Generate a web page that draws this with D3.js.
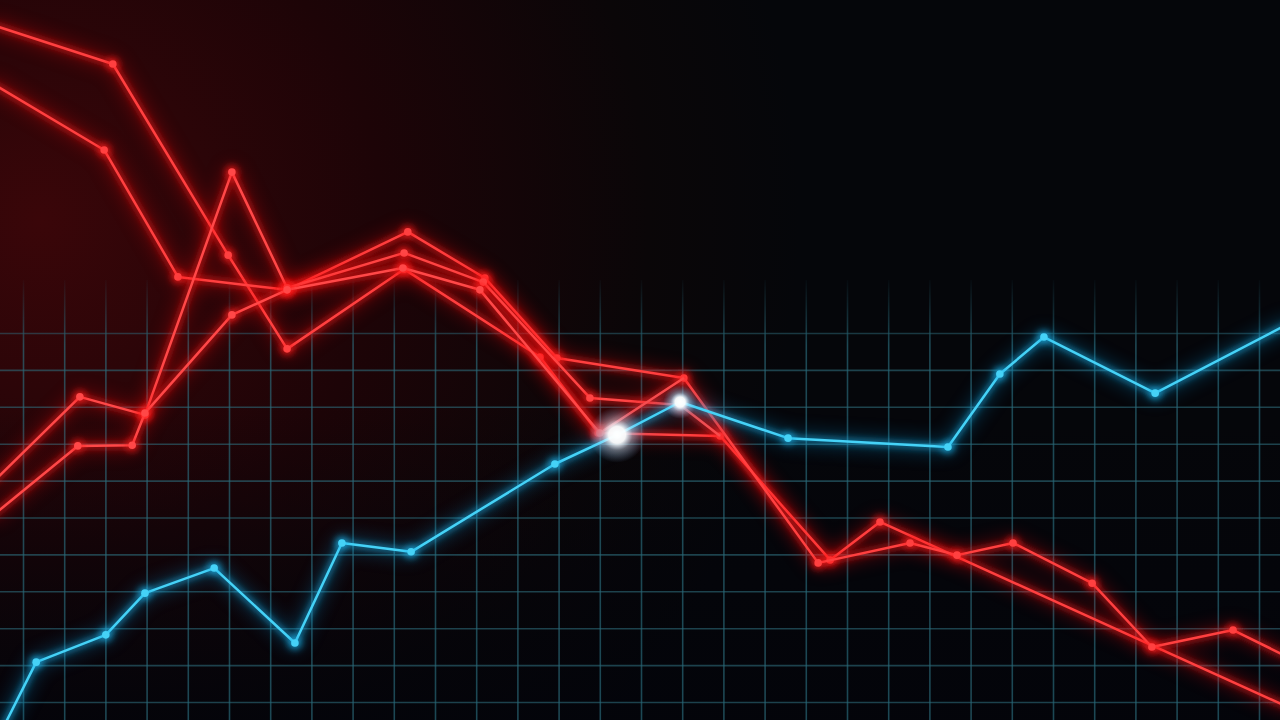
<!DOCTYPE html>
<html><head><meta charset="utf-8">
<script src="https://cdn.jsdelivr.net/npm/d3@7/dist/d3.min.js"></script>
<style>html,body{margin:0;padding:0;background:#060608;overflow:hidden}svg{display:block}</style>
</head><body>
<svg id="chart" width="1280" height="720"></svg>
<script>
// grid tick values (x: time steps, y: value levels)
const xTicks = d3.range(0, 31);
const yTicks = d3.range(0, 11);

// series: [time, value]
const blueSeries = [[-0.8,-1.4],[0.32,1.08],[2.01,1.82],[2.96,2.95],[4.64,3.63],[6.60,1.60],[7.74,4.31],[9.42,4.07],[12.91,6.45],[14.42,7.24],[15.95,8.13],[18.57,7.15],[22.45,6.91],[23.71,8.89],[24.78,9.89],[27.48,8.37],[30.8,10.3]];
const redSeries1 = [[-0.8,18.37],[2.18,17.29],[4.98,12.11],[6.41,9.57],[9.25,11.73],[12.55,9.35],[13.96,7.29],[16.92,7.21],[19.59,3.85],[20.80,4.88],[30.75,-0.16]];
const redSeries2 = [[-0.8,16.8],[1.97,14.96],[3.76,11.52],[6.41,11.17],[9.34,12.74],[11.21,11.49],[12.96,9.32],[16.04,8.78],[19.30,3.77],[21.53,4.31],[22.67,3.98],[24.03,4.31],[25.95,3.22],[27.40,1.49],[29.37,1.95],[30.75,1.19]];
const redSeries3 = [[-0.8,5.88],[1.38,8.27],[2.96,7.78],[5.07,14.36],[6.41,11.22],[9.25,12.17],[11.17,11.38],[13.76,8.24],[15.95,8.05],[16.92,7.21]];
const redSeries4 = [[-0.8,4.99],[1.33,6.94],[2.65,6.96],[2.96,7.83],[5.07,10.49],[6.41,11.17],[9.22,11.76],[11.09,11.17],[14.0,7.29],[16.04,8.78]];
const flares = [[14.42,7.24,1],[15.95,8.13,0.6]];

const W = 1280, H = 720;
const svg = d3.select('#chart');
const x = d3.scaleLinear().domain([0, 30]).range([23, 1259]);
const y = d3.scaleLinear().domain([0, 10]).range([702, 333]);

const defs = svg.append('defs');
const bg = defs.append('radialGradient').attr('id','bg').attr('gradientUnits','userSpaceOnUse')
  .attr('cx',40).attr('cy',220).attr('r',760);
bg.append('stop').attr('offset',0).attr('stop-color','#3a0609');
bg.append('stop').attr('offset',0.45).attr('stop-color','#1d0407');
bg.append('stop').attr('offset',0.8).attr('stop-color','#0a0608');
bg.append('stop').attr('offset',1).attr('stop-color','#05060a');

const fade = defs.append('linearGradient').attr('id','fade').attr('gradientUnits','userSpaceOnUse')
  .attr('x1',0).attr('y1',275).attr('x2',0).attr('y2',345);
fade.append('stop').attr('offset',0).attr('stop-color','#fff').attr('stop-opacity',0);
fade.append('stop').attr('offset',1).attr('stop-color','#fff').attr('stop-opacity',1);
defs.append('mask').attr('id','gridMask').attr('maskUnits','userSpaceOnUse')
  .attr('x',0).attr('y',0).attr('width',W).attr('height',H)
  .append('rect').attr('width',W).attr('height',H).attr('fill','url(#fade)');

function glow(id, sd){
  const f = defs.append('filter').attr('id',id).attr('filterUnits','userSpaceOnUse')
    .attr('x',-100).attr('y',-100).attr('width',W+200).attr('height',H+200);
  f.append('feGaussianBlur').attr('stdDeviation',sd);
}
glow('blurBig', 9);
glow('blurMid', 3.5);
glow('blurGrid', 0.6);

const flare = defs.append('radialGradient').attr('id','flare');
flare.append('stop').attr('offset',0).attr('stop-color','#ffffff').attr('stop-opacity',1);
flare.append('stop').attr('offset',0.3).attr('stop-color','#ffffff').attr('stop-opacity',0.95);
flare.append('stop').attr('offset',0.55).attr('stop-color','#d8ecff').attr('stop-opacity',0.4);
flare.append('stop').attr('offset',1).attr('stop-color','#8fc8ff').attr('stop-opacity',0);

svg.append('rect').attr('width',W).attr('height',H).attr('fill','url(#bg)');
const bot = defs.append('linearGradient').attr('id','bot').attr('x1',0).attr('y1',0).attr('x2',0).attr('y2',1);
bot.append('stop').attr('offset',0).attr('stop-color','#03040a').attr('stop-opacity',0);
bot.append('stop').attr('offset',1).attr('stop-color','#03040a').attr('stop-opacity',0.9);
svg.append('rect').attr('y',400).attr('width',W).attr('height',320).attr('fill','url(#bot)');

// grid
const grid = svg.append('g').attr('mask','url(#gridMask)').attr('filter','url(#blurGrid)');
grid.append('g').attr('transform',`translate(0,${H})`)
  .call(d3.axisBottom(x).tickValues(xTicks).tickSize(H-280).tickFormat(''))
  .call(g => g.select('.domain').remove())
  .call(g => g.selectAll('line').attr('stroke','#2f7486').attr('stroke-opacity',0.6).attr('stroke-width',1.6).attr('y2', -(H-280)));
grid.append('g')
  .call(d3.axisRight(y).tickValues(yTicks).tickSize(W).tickFormat(''))
  .call(g => g.select('.domain').remove())
  .call(g => g.selectAll('line').attr('stroke','#2b6a7a').attr('stroke-opacity',0.6).attr('stroke-width',1.6));

const line = d3.line().x(d => x(d[0])).y(d => y(d[1]));

function drawSeries(data, core, mid, halo){
  const g = svg.append('g');
  g.append('path').datum(data).attr('d',line).attr('fill','none').attr('stroke',halo)
    .attr('stroke-width',11).attr('stroke-opacity',0.35).attr('filter','url(#blurBig)').attr('stroke-linejoin','round');
  g.append('path').datum(data).attr('d',line).attr('fill','none').attr('stroke',mid)
    .attr('stroke-width',4.5).attr('stroke-opacity',0.75).attr('filter','url(#blurMid)').attr('stroke-linejoin','round');
  g.append('path').datum(data).attr('d',line).attr('fill','none').attr('stroke',core)
    .attr('stroke-width',2.5).attr('stroke-linejoin','round');
  const pts = data.slice(1, -1);
  g.selectAll('circle.h').data(pts).join('circle').attr('class','h')
    .attr('cx',d=>x(d[0])).attr('cy',d=>y(d[1])).attr('r',7).attr('fill',mid).attr('opacity',0.6).attr('filter','url(#blurMid)');
  g.selectAll('circle.c').data(pts).join('circle').attr('class','c')
    .attr('cx',d=>x(d[0])).attr('cy',d=>y(d[1])).attr('r',3.8).attr('fill',core);
}

drawSeries(redSeries1, '#ff4040', '#ff1f1f', '#ff0a0a');
drawSeries(redSeries2, '#ff4040', '#ff1f1f', '#ff0a0a');
drawSeries(redSeries3, '#ff4848', '#ff1f1f', '#ff0a0a');
drawSeries(redSeries4, '#ff4848', '#ff1f1f', '#ff0a0a');
drawSeries(blueSeries, '#45d2f7', '#1fb6ee', '#0fa0e6');

svg.append('g').selectAll('circle').data(flares).join('circle')
  .attr('cx',d=>x(d[0])).attr('cy',d=>y(d[1])).attr('r',d=>28*d[2]).attr('fill','url(#flare)');
</script>
</body></html>
